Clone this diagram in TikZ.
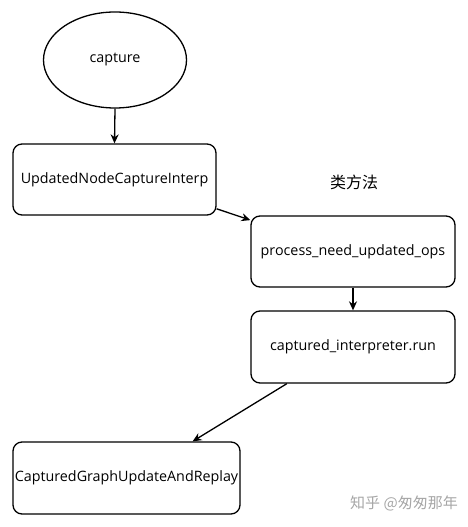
\documentclass[tikz,border=0pt]{standalone}
\usepackage{fontspec}
\setmainfont{Open Sans}
\newfontfamily\cjkfont{Noto Sans CJK SC}
\usetikzlibrary{arrows.meta,shapes.geometric}
\tikzset{
  box/.style={draw=black, line width=1.3pt, rounded corners=9pt, minimum height=71pt, inner sep=0pt, font=\fontsize{14.3}{16}\selectfont},
  oval/.style={draw=black, line width=1.3pt, ellipse, minimum width=143pt, minimum height=96pt, inner sep=0pt, font=\fontsize{14.3}{16}\selectfont},
  arr/.style={draw=black, line width=1.3pt, -{Stealth[length=9pt,width=8pt]}},
}
\begin{document}
\begin{tikzpicture}[x=1pt,y=1pt]
\useasboundingbox (0,0) rectangle (468,527);
\node[oval] (cap) at (115,467) {capture};
\node[box, minimum width=203pt] (b1) at (114.5,347.5) {UpdatedNodeCaptureInterp};
\node[box, minimum width=204pt] (b2) at (353,275.5) {process\_need\_updated\_ops};
\node[box, minimum width=204pt, minimum height=72pt] (b3) at (353,180) {captured\_interpreter.run};
\node[box, minimum width=227pt, minimum height=72pt] (b4) at (126.5,49) {CapturedGraphUpdateAndReplay};
\node[font=\cjkfont\fontsize{16}{18}\selectfont] (lbl) at (354,345) {类方法};
\node[font=\cjkfont\fontsize{15}{17}\selectfont, text=black!35] (wm) at (404,24) {知乎 @匆匆那年};
\draw[arr] (cap.south) -- (b1.north);
\draw[arr] (b1.-16.7) -- (b2.163.4);
\draw[arr] (b2.south) -- (b3.north);
\draw[arr] (b3.209.7) -- (b4.29.5);
\end{tikzpicture}
\end{document}
